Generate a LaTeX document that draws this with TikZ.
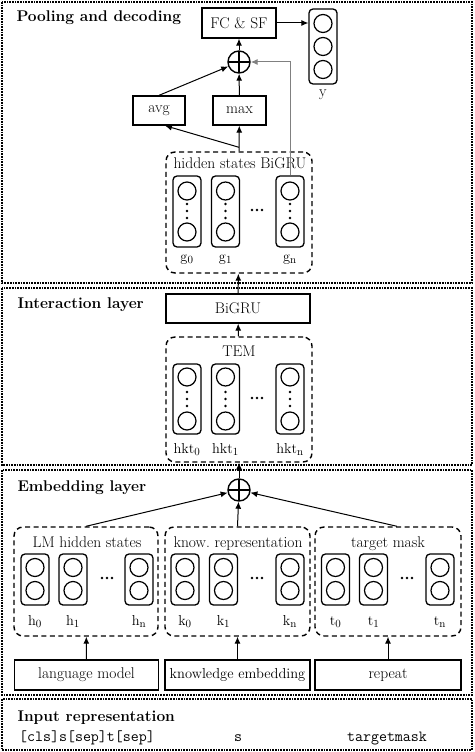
\documentclass[tikz,border=0pt]{standalone}
\usepackage{tikz}
\usetikzlibrary{positioning,arrows.meta}
\colorlet{mygray}{black!50}

\begin{document}
\begin{tikzpicture}[x=1pt, y=-1pt, font=\fontsize{15.5}{18}\selectfont,
		layer/.style = {draw, densely dotted, line width=1.7pt},
		title/.style = {anchor=base west, font=\fontsize{15.5}{18}\selectfont\bfseries},
		box/.style = {draw, line width=1.3pt, inner sep=0pt},
		group/.style = {draw, dash pattern=on 5pt off 3.5pt, line width=1.4pt, rounded corners=9pt, inner sep=0pt},
		vec/.style = {draw, line width=1.3pt, rounded corners=4pt, inner sep=0pt, minimum width=28pt},
		unit/.style = {draw, circle, line width=1.2pt, minimum size=18pt, inner sep=0pt},
		plus/.style = {draw, circle, line width=1.4pt, minimum size=22pt, inner sep=0pt,
			path picture={\draw[line width=1.2pt] (path picture bounding box.north) -- (path picture bounding box.south)
				(path picture bounding box.west) -- (path picture bounding box.east);}},
		arr/.style = {-{Latex[length=7pt,width=6pt]}, line width=1pt}]
		\useasboundingbox (0,0) rectangle (474,752);
		
		% layers
		\draw[layer] (2,2) rectangle (472,283);
		\draw[layer] (2,288) rectangle (472,465);
		\draw[layer] (2,470) rectangle (472,695);
		\draw[layer] (2,699) rectangle (472,750);
		\node[title] (t1) at (13,22) {Pooling and decoding};
		\node[title] (t2) at (14,308) {Interaction layer};
		\node[title] (t3) at (14,491) {Embedding layer};
		\node[title] (t4) at (14,721) {Input representation};
		
		% pooling and decoding
		\node[box, minimum width=74pt, minimum height=30pt] (fc) at (239,23) {FC \& SF};
		\node[vec, minimum height=75pt] (y) at (323,46.5) {};
		\foreach \yy in {23.5,46.5,69.5} \node[unit] at (323,\yy) {};
		\node[anchor=base] (ylab) at (323,96) {y};
		\node[plus] (plus1) at (239,62) {};
		\node[box, minimum width=52pt, minimum height=29pt] (avg) at (159,110.5) {avg};
		\node[box, minimum width=53pt, minimum height=29pt] (max) at (239.5,110.5) {max};
		\node[group, minimum width=146pt, minimum height=121pt] (hsg) at (239,212.5) {};
		\node[anchor=base] (hsglab) at (240,168) {hidden states BiGRU};
		\foreach \x/\n in {187/0, 225.5/1, 290/n} {
			\node[vec, minimum height=71pt] (g\n) at (\x,211.5) {};
			\node[unit] at (\x,191) {};
			\node[unit] at (\x,232) {};
			\foreach \d in {-7,0,7} \fill (\x,211+\d) circle (1.4pt);
			\node[anchor=base] at (\x,261) {$\mathrm{g}_{\mathrm{\n}}$};
		}
		\foreach \d in {-5,0,5} \fill (257+\d,210) circle (1.3pt);
		\draw[arr] (fc.east) -- (fc.east -| y.west);
		\draw[arr] (plus1) -- (fc);
		\draw[arr] (max) -- (plus1);
		\draw[arr] (avg.north) -- (plus1);
		\draw[arr] (hsg.north) -- (max);
		\draw[arr] ([yshift=4pt]hsg.north) -- ([xshift=6pt]avg.south);
		\draw[arr, mygray] (gn.north) |- (plus1.east);
		
		% interaction layer
		\node[box, minimum width=144pt, minimum height=29pt] (bigru) at (238,308.5) {BiGRU};
		\node[group, minimum width=146pt, minimum height=125pt] (tem) at (239,399.5) {};
		\node[anchor=base] (temlab) at (239,356) {TEM};
		\foreach \x/\n in {187/0, 225.5/1, 290/n} {
			\node[vec, minimum height=70pt] (hkt\n) at (\x,399) {};
			\node[unit] at (\x,377) {};
			\node[unit] at (\x,421) {};
			\foreach \d in {-7,0,7} \fill (\x,399+\d) circle (1.4pt);
			\node[anchor=base] at (\x,453) {$\mathrm{hkt}_{\mathrm{\n}}$};
		}
		\foreach \d in {-5,0,5} \fill (257+\d,398) circle (1.3pt);
		\draw[arr] (tem) -- (bigru);
		\draw[arr] (bigru) -- (hsg);
		
		% embedding layer
		\node[plus] (plus2) at (239,490) {};
		\node[group, minimum width=144pt, minimum height=109pt] (lm) at (86,581.5) {};
		\node[group, minimum width=145pt, minimum height=109pt] (know) at (237.5,581.5) {};
		\node[group, minimum width=146pt, minimum height=109pt] (mask) at (388,581.5) {};
		\node[anchor=base] (lmlab) at (87,547) {LM hidden states};
		\node[anchor=base] (knowlab) at (238,547) {know.\ representation};
		\node[anchor=base] (masklab) at (388,547) {target mask};
		\foreach \x/\n/\l in {35/0/h, 73/1/h, 139/n/h, 185/0/k, 223.5/1/k, 290/n/k, 335.5/0/t, 373.5/1/t, 440/n/t} {
			\node[vec, minimum height=51pt] (\l\n) at (\x,579.5) {};
			\node[unit] at (\x,567.5) {};
			\node[unit] at (\x,590.5) {};
			\node[anchor=base] at (\x,625) {$\mathrm{\l}_{\mathrm{\n}}$};
		}
		\foreach \x in {107,257,407} \foreach \d in {-5,0,5} \fill (\x+\d,578) circle (1.3pt);
		\node[box, minimum width=144pt, minimum height=30pt] (lang) at (86.5,675) {language model};
		\node[box, minimum width=145pt, minimum height=30pt, font=\fontsize{14.5}{17}\selectfont] (kemb) at (237.5,675) {knowledge embedding};
		\node[box, minimum width=146pt, minimum height=30pt] (rep) at (388,675) {repeat};
		\draw[arr] (plus2) -- (tem);
		\draw[arr] (lm.north) -- (plus2);
		\draw[arr] (know.north) -- (plus2);
		\draw[arr] ([xshift=9pt]mask.north) -- (plus2);
		\draw[arr] (lang) -- (lm);
		\draw[arr] (kemb) -- (know);
		\draw[arr] (rep) -- (mask);
		
		% input representation
		\node[anchor=base] (in1) at (87,741) {\ttfamily [cls]s[sep]t[sep]};
		\node[anchor=base] (in2) at (238,741) {\ttfamily s};
		\node[anchor=base] (in3) at (387,741) {\ttfamily targetmask};
	\end{tikzpicture}
\end{document}
